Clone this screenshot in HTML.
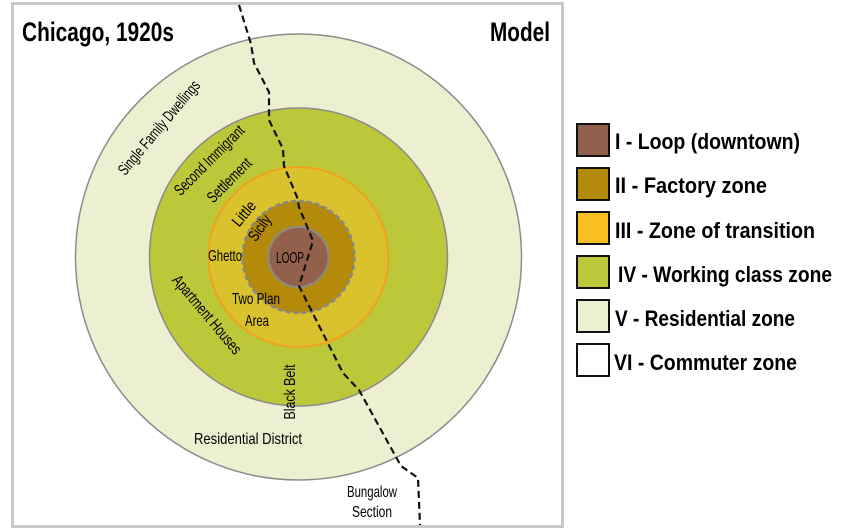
<!DOCTYPE html>
<html><head><meta charset="utf-8"><style>
html,body{margin:0;padding:0;background:#fff;width:850px;height:532px;overflow:hidden}
text{font-family:"Liberation Sans Narrow","Liberation Sans",sans-serif;fill:#000}
</style></head><body>
<svg width="850" height="532" viewBox="0 0 850 532" xmlns="http://www.w3.org/2000/svg">
<rect x="12.5" y="3.5" width="550" height="523" fill="#fff" stroke="#c8c8c8" stroke-width="3"/>
<circle cx="298.5" cy="257" r="223" fill="#edf0d0" stroke="#8c8c8c" stroke-width="1.5"/>
<circle cx="298.5" cy="257" r="149" fill="#bcc83a" stroke="#8a8a8a" stroke-width="1.5"/>
<circle cx="298.5" cy="257" r="90" fill="#d9c22e" stroke="#f0a21c" stroke-width="2"/>
<circle cx="298.5" cy="257" r="56" fill="#b48a0a" stroke="#888" stroke-width="2.5" stroke-dasharray="5,3"/>
<circle cx="298.5" cy="257" r="30" fill="#93604b" stroke="#8a8a8a" stroke-width="2"/>
<polyline points="239,5 251,44 254,63 269,92 269,120 283,149 284,166 297,197 299,207 313,241 299,286 343,373 359,390 401,466 418,478 420,525" fill="none" stroke="#111" stroke-width="2.2" stroke-dasharray="7,4"/>
<text x="22" y="41" font-size="27" font-weight="bold" textLength="152" lengthAdjust="spacingAndGlyphs">Chicago, 1920s</text>
<text x="490" y="41" font-size="27" font-weight="bold" textLength="60" lengthAdjust="spacingAndGlyphs">Model</text>
<g font-size="16">
<text transform="translate(163,131) rotate(-50)" text-anchor="middle" textLength="118" lengthAdjust="spacingAndGlyphs">Single Family Dwellings</text>
<text transform="translate(213,164) rotate(-45)" text-anchor="middle" textLength="92" lengthAdjust="spacingAndGlyphs">Second Immigrant</text>
<text transform="translate(233,184) rotate(-45)" text-anchor="middle" textLength="56" lengthAdjust="spacingAndGlyphs">Settlement</text>
<text transform="translate(248,217) rotate(-50)" text-anchor="middle" textLength="28" lengthAdjust="spacingAndGlyphs">Little</text>
<text transform="translate(264,231) rotate(-55)" text-anchor="middle" textLength="28" lengthAdjust="spacingAndGlyphs">Sicily</text>
<text x="225" y="261" text-anchor="middle" textLength="34" lengthAdjust="spacingAndGlyphs">Ghetto</text>
<text x="290" y="263" text-anchor="middle" textLength="28" lengthAdjust="spacingAndGlyphs">LOOP</text>
<text x="256" y="304" text-anchor="middle" textLength="48" lengthAdjust="spacingAndGlyphs">Two Plan</text>
<text x="257" y="326" text-anchor="middle" textLength="24" lengthAdjust="spacingAndGlyphs">Area</text>
<text transform="translate(203,318) rotate(50)" text-anchor="middle" textLength="98" lengthAdjust="spacingAndGlyphs">Apartment Houses</text>
<text transform="translate(295,392) rotate(-90)" text-anchor="middle" textLength="55" lengthAdjust="spacingAndGlyphs">Black Belt</text>
<text x="248" y="444" text-anchor="middle" textLength="108" lengthAdjust="spacingAndGlyphs">Residential District</text>
<text x="372" y="497" text-anchor="middle" textLength="50" lengthAdjust="spacingAndGlyphs">Bungalow</text>
<text x="372" y="517" text-anchor="middle" textLength="40" lengthAdjust="spacingAndGlyphs">Section</text>
</g>
<g stroke="#111" stroke-width="2">
<rect x="577" y="124" width="32" height="32" fill="#93604b"/>
<rect x="577" y="168" width="32" height="32" fill="#b48a0a"/>
<rect x="577" y="212" width="32" height="32" fill="#f7c020"/>
<rect x="577" y="256" width="32" height="32" fill="#bcc83a"/>
<rect x="577" y="300" width="32" height="32" fill="#edf0d0"/>
<rect x="577" y="344" width="32" height="32" fill="#fff"/>
</g>
<g font-size="22" font-weight="bold">
<text x="615" y="149" textLength="185" lengthAdjust="spacingAndGlyphs">I - Loop (downtown)</text>
<text x="615" y="193" textLength="152" lengthAdjust="spacingAndGlyphs">II - Factory zone</text>
<text x="615" y="238" textLength="200" lengthAdjust="spacingAndGlyphs">III - Zone of transition</text>
<text x="618" y="282" textLength="214" lengthAdjust="spacingAndGlyphs">IV - Working class zone</text>
<text x="615" y="326" textLength="180" lengthAdjust="spacingAndGlyphs">V - Residential zone</text>
<text x="614" y="370" textLength="183" lengthAdjust="spacingAndGlyphs">VI - Commuter zone</text>
</g>
</svg>
</body></html>
